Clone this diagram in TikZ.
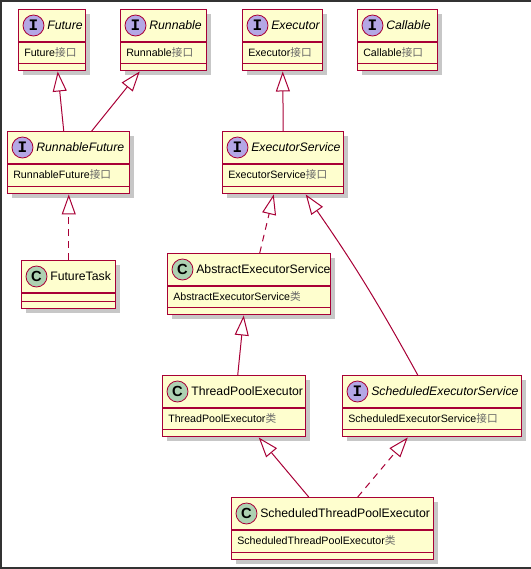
\documentclass[tikz,border=0pt]{standalone}
\usepackage{fontspec}
\setmainfont{Liberation Sans}
\newfontfamily\cjk{Noto Sans CJK SC}
\newfontfamily\iconfont{Liberation Mono}
\usetikzlibrary{arrows.meta,shadows}
\definecolor{umlred}{HTML}{A80036}
\definecolor{umlfill}{HTML}{FEFECE}
\definecolor{ifacefill}{HTML}{B4A7E5}
\definecolor{clsfill}{HTML}{ADD1B2}
\definecolor{framegray}{HTML}{333333}

% grey CJK suffix
\newcommand{\cn}[1]{\textcolor{black!60}{\cjk #1}}

% box: name, north west corner, width, icon style, title, attribute, height (all in px)
\newcommand{\umlbox}[7]{%
  \node[classbox,minimum width=#3*0.75pt,minimum height=#7*0.75pt,anchor=north west] (#1) at (#2) {};
  \draw[classline] ([shift={(0,33)}]#1.north west) -- ([shift={(0,33)}]#1.north east);
  \draw[classline] ([shift={(0,-8)}]#1.south west) -- ([shift={(0,-8)}]#1.south east);
  \node[#4] (#1-icon) at ([shift={(15.5,16.5)}]#1.north west) {};
  \node[titletext] (#1-title) at ([shift={(29,16.5)}]#1.north west) {#5};
  \node[attrtext] (#1-attr) at ([shift={(6,43.5)}]#1.north west) {#6};
}

\begin{document}
\begin{tikzpicture}[x=0.75pt,y=-0.75pt,
  classbox/.style={rectangle,draw=umlred,fill=umlfill,line width=1.1pt,inner sep=0pt,
                   drop shadow={shadow xshift=3pt,shadow yshift=-3pt,fill=black!40,opacity=0.55}},
  classline/.style={draw=umlred,line width=1.1pt},
  iface/.style={circle,draw=umlred,fill=ifacefill,line width=0.6pt,minimum size=15.75pt,inner sep=0pt,
                label={[font=\iconfont\bfseries\fontsize{12pt}{12pt}\selectfont]center:I}},
  cls/.style={circle,draw=umlred,fill=clsfill,line width=0.6pt,minimum size=15.75pt,inner sep=0pt,
              label={[font=\bfseries\fontsize{11pt}{11pt}\selectfont]center:C}},
  titletext/.style={anchor=west,inner sep=0pt,font=\fontsize{9.2pt}{11pt}\selectfont},
  attrtext/.style={anchor=west,inner sep=0pt,font=\fontsize{8pt}{9pt}\selectfont},
  ext/.style={draw=umlred,line width=0.75pt,-{Triangle[open,length=15pt,width=10.5pt]}},
  impl/.style={ext,dash pattern=on 5pt off 4pt}]
\useasboundingbox (0,0) rectangle (531,569);
\draw[framegray,line width=1.2pt] (531,0.8) -- (0.8,0.8) -- (0.8,567.8) -- (531,567.8);

\umlbox{fut}{18,9}{67}{iface}{\itshape Future}{Future\cn{接口}}{61}
\umlbox{run}{120,9}{86}{iface}{\itshape Runnable}{Runnable\cn{接口}}{61}
\umlbox{exe}{242,9}{80}{iface}{\itshape Executor}{Executor\cn{接口}}{61}
\umlbox{cal}{357,9}{80}{iface}{\itshape Callable}{Callable\cn{接口}}{61}
\umlbox{rf}{7,131}{122}{iface}{\itshape RunnableFuture}{RunnableFuture\cn{接口}}{62}
\umlbox{es}{222,131}{121}{iface}{\itshape ExecutorService}{ExecutorService\cn{接口}}{62}
\umlbox{ft}{21,260}{94}{cls}{FutureTask}{}{48}
\umlbox{aes}{167,253}{163}{cls}{AbstractExecutorService}{AbstractExecutorService\cn{类}}{61}
\umlbox{tpe}{162,375}{143}{cls}{ThreadPoolExecutor}{ThreadPoolExecutor\cn{类}}{61}
\umlbox{ses}{342,375}{179}{iface}{\itshape ScheduledExecutorService}{ScheduledExecutorService\cn{接口}}{61}
\umlbox{stpe}{231,497}{202}{cls}{ScheduledThreadPoolExecutor}{ScheduledThreadPoolExecutor\cn{类}}{62}

\draw[ext] ([shift={(-5,0)}]rf.north) -- ([shift={(5.5,0)}]fut.south);
\draw[ext] ([shift={(23,0)}]rf.north) -- ([shift={(-24,0)}]run.south);
\draw[ext] (es.north) -- (exe.south);
\draw[impl] (ft.north) -- (rf.south);
\draw[impl] ([shift={(10.5,0)}]aes.north) -- ([shift={(-9.5,0)}]es.south);
\draw[ext] ([shift={(-14.5,0)}]ses.north) to[bend right=3] ([shift={(22.5,0)}]es.south);
\draw[ext] ([shift={(3.5,0)}]tpe.north) -- ([shift={(-5.5,0)}]aes.south);
\draw[ext] ([shift={(-24,0)}]stpe.north) -- ([shift={(24.5,0)}]tpe.south);
\draw[impl] ([shift={(25,0)}]stpe.north) -- ([shift={(-24.5,0)}]ses.south);
\end{tikzpicture}
\end{document}
